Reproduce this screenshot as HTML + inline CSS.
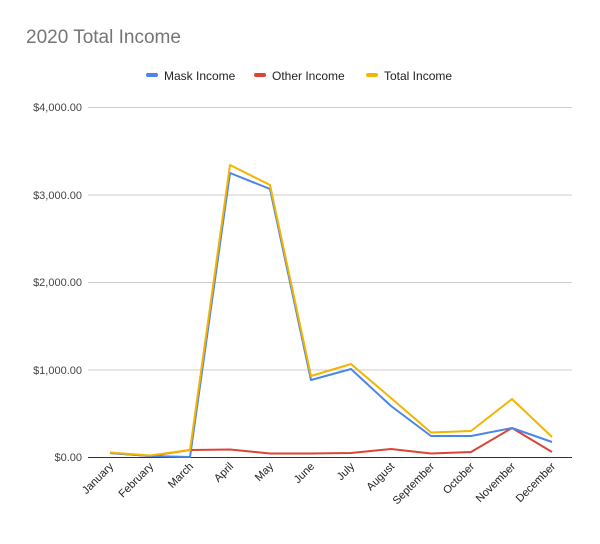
<!DOCTYPE html>
<html><head><style>body{margin:0;background:#fff}</style></head><body>
<svg width="600" height="539" xmlns="http://www.w3.org/2000/svg" font-family="Liberation Sans, Arial, sans-serif">
<rect width="600" height="539" fill="#fff"/>
<text x="26" y="43" font-size="19" fill="#757575">2020 Total Income</text>
<g font-size="12" fill="#222">
<rect x="146" y="73" width="12" height="4" rx="2" fill="#4a86e8"/><text x="164" y="80">Mask Income</text>
<rect x="254" y="73" width="12" height="4" rx="2" fill="#db4437"/><text x="272" y="80">Other Income</text>
<rect x="366" y="73" width="12" height="4" rx="2" fill="#f4b400"/><text x="384" y="80">Total Income</text>
</g>
<g stroke="#ccc" stroke-width="1">
<line x1="88" x2="572" y1="107.5" y2="107.5"/>
<line x1="88" x2="572" y1="195" y2="195"/>
<line x1="88" x2="572" y1="282.5" y2="282.5"/>
<line x1="88" x2="572" y1="370" y2="370"/>
</g>
<line x1="88" x2="572" y1="457.5" y2="457.5" stroke="#333"/>
<g font-size="11" fill="#444" text-anchor="end">
<text x="82" y="111">$4,000.00</text>
<text x="82" y="199">$3,000.00</text>
<text x="82" y="286">$2,000.00</text>
<text x="82" y="374">$1,000.00</text>
<text x="82" y="461">$0.00</text>
</g>
<g fill="none" stroke-width="2" stroke-linejoin="round">
<polyline stroke="#db4437" points="110,453 150,456 190,450 230,449.5 270,453.5 311,453.5 351,453 391,449 431,453.5 471,452 512,428 552,452"/>
<polyline stroke="#4a86e8" points="110,453 150,456 190,457 230,173 270,189 311,380 351,369 391,406 431,436 471,436 512,428 552,442"/>
<polyline stroke="#f4b400" points="110,452.5 150,455.5 190,450 230,165 270,185 311,376 351,364 391,398 431,432.5 471,431 512,399 552,437"/>
</g>
<g font-size="11" fill="#222" text-anchor="end">
<text transform="translate(114,467) rotate(-45)">January</text>
<text transform="translate(154,467) rotate(-45)">February</text>
<text transform="translate(194,467) rotate(-45)">March</text>
<text transform="translate(234,467) rotate(-45)">April</text>
<text transform="translate(274,467) rotate(-45)">May</text>
<text transform="translate(315,467) rotate(-45)">June</text>
<text transform="translate(355,467) rotate(-45)">July</text>
<text transform="translate(395,467) rotate(-45)">August</text>
<text transform="translate(435,467) rotate(-45)">September</text>
<text transform="translate(475,467) rotate(-45)">October</text>
<text transform="translate(516,467) rotate(-45)">November</text>
<text transform="translate(556,467) rotate(-45)">December</text>
</g>
</svg>
</body></html>
